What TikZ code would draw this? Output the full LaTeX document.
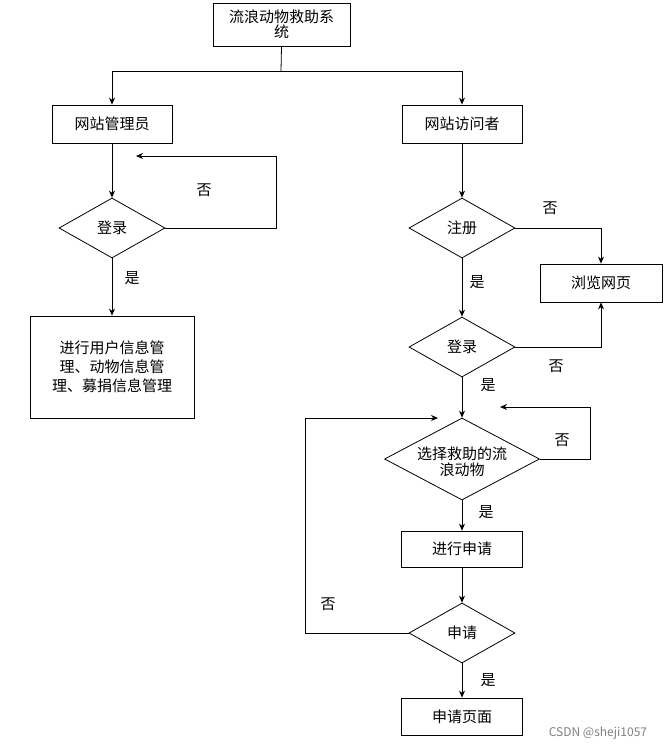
\documentclass[tikz,border=0pt]{standalone}
\usepackage{fontspec}
\setmainfont{Noto Sans CJK SC}
\usetikzlibrary{shapes.geometric,arrows.meta}
\begin{document}
\begin{tikzpicture}[x=1pt,y=-1pt,
  every node/.style={font=\fontsize{15}{19}\selectfont},
  box/.style={draw,thick,inner sep=0pt},
  dia/.style={draw,thick,diamond,inner sep=0pt},
  lbl/.style={},
  ar/.style={thick,-{Stealth[length=7pt,width=6pt]}},
  ln/.style={thick}]
\useasboundingbox (0,0) rectangle (672,750);
\node[box,minimum width=137,minimum height=43,align=center] (top) at (281.5,24.5) {流浪动物救助系\\[-4pt]统};
\node[box,minimum width=120,minimum height=38] (adm) at (112,124) {网站管理员};
\node[box,minimum width=120,minimum height=38] (vis) at (462,124) {网站访问者};
\coordinate (j) at (281,71);
\draw[ln] (top.south) -- (j);
\draw[ar] (j) -| (adm.north);
\draw[ar] (j) -| (vis.north);
% left branch
\node[dia,minimum width=106,minimum height=60,shape aspect=1.77] (l1) at (112,228) {};
\node at (l1) {登录};
\draw[ar] (adm.south) -- (l1.north);
\coordinate (lc) at (276,156);
\coordinate (le) at (112,156);
\draw[ln] (l1.east) -| (lc);
\draw[ar] (lc) -- ([xshift=24]le);
\node at (204,190) {否};
\node[box,minimum width=164,minimum height=102,align=center] (lb) at (112,367) {进行用户信息管\\理、动物信息管\\理、募捐信息管理};
\draw[ar] (l1.south) -- (lb.north);
\node at (132,278) {是};
% right branch
\node[dia,minimum width=106,minimum height=60,shape aspect=1.77] (r1) at (462,228) {};
\node at (r1) {注册};
\draw[ar] (vis.south) -- (r1.north);
\node[box,minimum width=122,minimum height=38] (br) at (601,283) {浏览网页};
\draw[ar] (r1.east) -| (br.north);
\node at (550,208) {否};
\node[dia,minimum width=106,minimum height=60,shape aspect=1.77] (r2) at (462,347) {};
\node at (r2) {登录};
\draw[ar] (r1.south) -- (r2.north);
\node at (477,282) {是};
\draw[ar] (r2.east) -| (br.south);
\node at (556,366) {否};
\node[dia,minimum width=155,minimum height=82,shape aspect=1.9] (r3) at (462,459) {};
\node[align=center] at (462,462) {选择救助的流\\[-3pt]浪动物};
\draw[ar] (r2.south) -- (r3.north);
\node at (488,385) {是};
\coordinate (rc) at (590,407);
\draw[ln] (r3.east) -| (rc);
\draw[ar] (rc) -- (500,407);
\node at (562,440) {否};
\node[box,minimum width=121,minimum height=36] (ap) at (462,549) {进行申请};
\draw[ar] (r3.south) -- (ap.north);
\node at (486,512) {是};
\node[dia,minimum width=106,minimum height=60,shape aspect=1.77] (r4) at (462,633) {};
\node at (r4) {申请};
\draw[ar] (ap.south) -- (r4.north);
\coordinate (lc2) at (305,418);
\draw[ln] (r4.west) -| (lc2);
\draw[ar] (lc2) -- (438,418);
\node at (328,604) {否};
\node[box,minimum width=121,minimum height=37] (pg) at (462,716.5) {申请页面};
\draw[ar] (r4.south) -- (pg.north);
\node at (488,680) {是};
\node[text=gray,font=\fontsize{12}{14}\selectfont] (wm) at (598,733) {CSDN @sheji1057};
\end{tikzpicture}
\end{document}
